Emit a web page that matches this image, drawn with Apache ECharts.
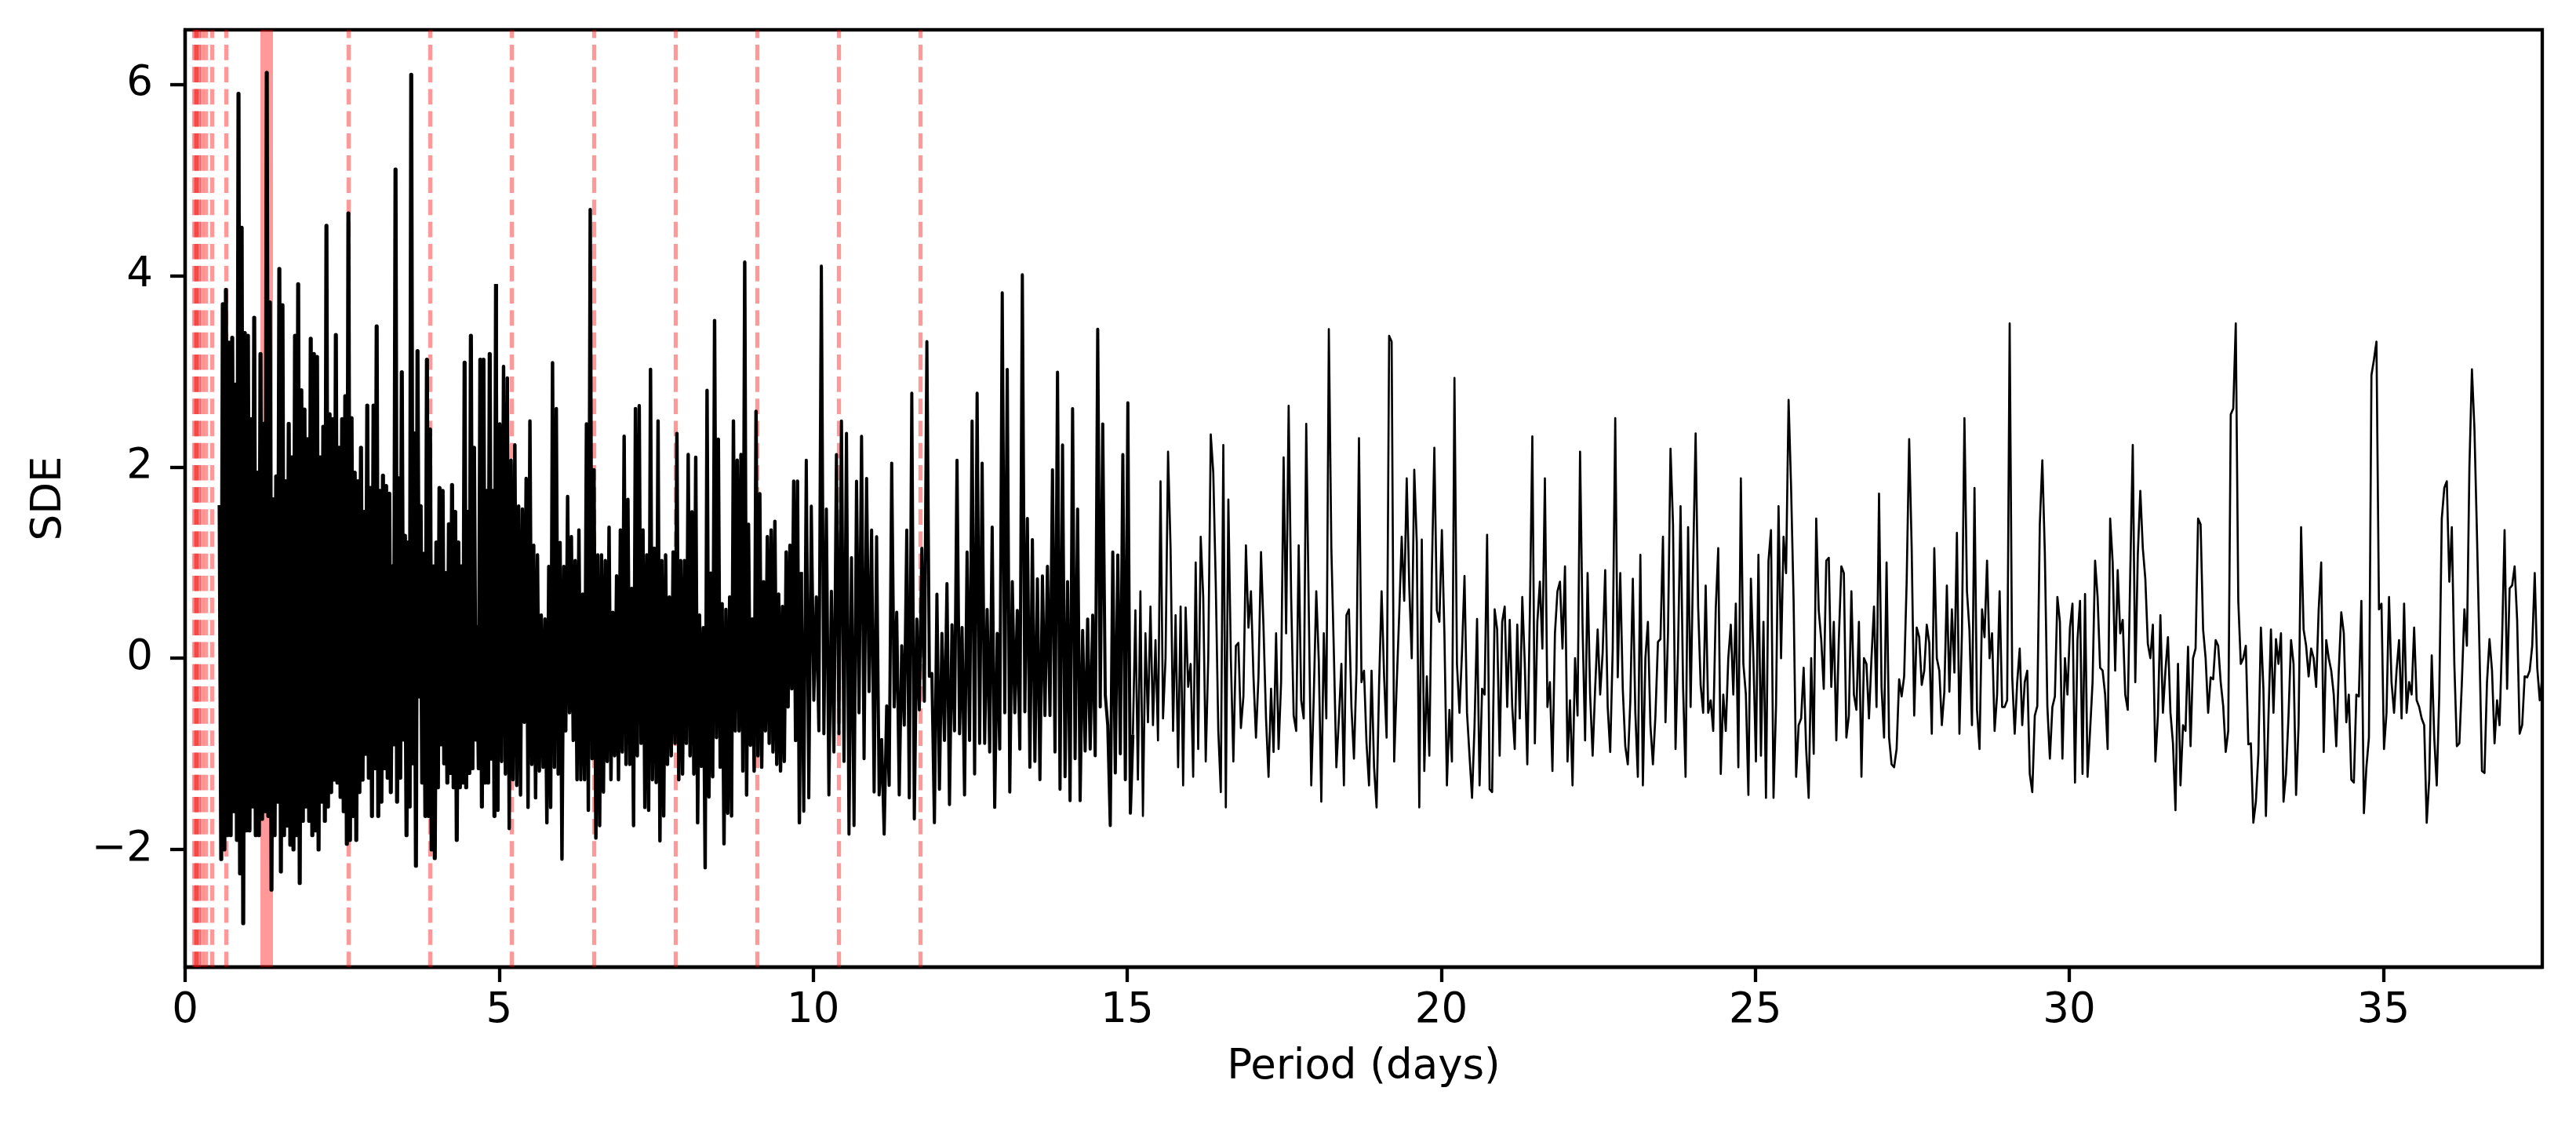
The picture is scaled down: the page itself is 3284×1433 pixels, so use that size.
<!DOCTYPE html>
<html><head><meta charset="utf-8">
<script src="https://cdn.jsdelivr.net/npm/echarts@6/dist/echarts.min.js"></script>
<style>html,body{margin:0;padding:0;background:#fff}#chart{width:3284px;height:1433px}</style>
</head><body><div id="chart"></div>
<script>
// ---- data ----
const xTicks = [0, 5, 10, 15, 20, 25, 30, 35];
const yTicks = [-2, 0, 2, 4, 6];
const bestPeriod = 1.301;
const aliasPeriods = [0.1446, 0.1626, 0.1859, 0.2168, 0.2602, 0.3253, 0.4337, 0.6505,
  2.602, 3.903, 5.204, 6.505, 7.806, 9.107, 10.408, 11.709];
// period grid of each SDE segment (start, step in days)
const gridStarts = [0.55, 4.95, 9.81, 15.09];
const gridSteps = [0.025, 0.03, 0.04, 0.04];
const sdeA = [1.6,-2.1, 3.7,-2.0, 3.85,-1.85, 3.3,-1.85, 3.35,-1.6, 2.86,-1.9, 5.9,-2.25, 4.5,-2.77, 3.4,-1.8, 3.37,-1.8,
  2.5,-1.55, 3.56,-1.85, 1.94,-1.85, 3.18,-1.68, 2.45,-1.6, 6.12,-1.65, 3.72,-2.42, 1.66,-1.85, 1.9,-1.5, 4.07,-2.23,
  3.69,-1.85, 1.85,-1.75, 2.45,-1.95, 2.1,-2.0, 3.37,-1.85, 3.91,-2.35, 2.8,-1.7, 2.6,-1.55, 2.29,-1.7, 3.34,-1.85,
  3.18,-1.8, 3.15,-2.0, 2.1,-1.5, 2.42,-1.7, 4.52,-1.55, 2.55,-1.4, 2.5,-1.27, 3.38,-1.3, 2.2,-1.45, 2.5,-1.6,
  2.74,-1.94, 4.65,-1.9, 2.51,-1.65, 1.94,-1.9, 1.85,-1.4, 2.2,-1.27, 1.53,-1.0, 2.64,-1.25, 1.78,-1.65, 2.64,-1.15,
  3.47,-1.65, 1.75,-1.5, 1.91,-1.15, 1.8,-1.25, 1.72,-1.4, 0.96,-0.9, 5.11,-1.5, 1.88,-1.25, 2.99,-0.85, 1.28,-1.85,
  1.21,-1.55, 6.1,-1.1, 2.35,-2.17, 3.21,-0.4, 1.59,-1.3, 1.09,-1.65, 3.12,-1.65, 2.39,-2.0, 0.96,-2.09, 1.21,-1.35,
  1.78,-0.9, 1.75,-1.1, 0.89,-1.3, 1.4,-1.2, 1.81,-1.35, 1.53,-1.9, 1.21,-1.35, 0.96,-1.3, 3.09,-1.35, 1.53,-1.2,
  3.37,-1.15, 2.2,-0.85, 0.32,-1.15, 3.12,-1.55, 3.12,-1.3, 1.75,-1.3, 3.18,-1.05, 1.75,-1.65];
const sdeB = [3.91,-1.59, 2.45,-1.08, 3.05,-1.21, 2.93,-1.78, 2.07,-1.27, 2.23,-1.33, 1.59,-1.43, 1.56,-0.67, 1.88,-1.56, 2.48,-1.11,
  1.18,-1.46, 1.08,-1.18, 0.45,-1.14, 0.41,-1.72, 0.96,-1.56, 3.09,-1.14, 2.61,-1.21, 1.21,-2.1, 0.96,-0.76, 1.69,-0.57,
  1.27,-0.86, 1.02,-1.27, 1.34,-1.27, 0.67,-1.27, 2.45,-1.59, 4.69,-1.05, 1.97,-1.88, 1.08,-1.75, 1.08,-1.4, 1.02,-1.08,
  1.37,-1.27, 0.48,-1.02, 0.86,-1.27, 1.34,-0.98, 2.32,-1.11, 1.66,-1.11, 0.73,-1.75, 2.61,-1.02, 2.64,-0.89, 1.34,-1.56,
  1.08,-1.59, 3.02,-1.27, 1.15,-1.3, 2.48,-1.91, 1.02,-1.65, 1.08,-1.11, 0.64,-1.02, 1.11,-0.89, 2.35,-1.27, 1.02,-1.21,
  1.02,-0.89, 2.13,-1.02, 1.53,-1.21, 2.1,-1.72, 0.45,-1.13, 0.32,-2.19, 2.8,-1.45, 0.89,-1.24, 3.53,-0.83, 2.29,-1.14,
  0.57,-1.94, 0.51,-1.62, 0.64,-1.65, 2.48,-0.76, 2.07,-0.76, 2.13,-1.18, 4.14,-1.43, 1.4,-0.91, 0.41,-1.18, 2.58,-1.02,
  1.72,-1.14, 0.8,-0.76, 1.27,-0.89, 1.34,-0.98, 1.43,-1.11, 0.67,-1.18, 0.54,-1.08, 1.11,-0.51, 1.18,-0.32, 1.85,-0.86,
  1.85,-1.72];
const sdeC = [0.9,-1.6, 2.07,-1.46, 1.59,-0.44, 0.64,-0.76, 4.1,-0.79, 1.56,-1.43, 0.7,-0.98, 2.13,-0.79, 2.48,-1.08, 2.35,-1.84,
  1.05,-1.75, 1.85,-0.57, 2.32,-1.05, 1.88,-0.35, 1.34,-1.4, 1.27,-1.43, -0.85,-1.84, -0.5,-1.33, 2.04,-0.51, 0.48,-1.43,
  0.13,-0.7, 1.34,-1.46, 2.77,-1.68, 0.41,-0.54, 1.15,-0.45, 3.31,-0.19, -0.16,-1.72, 0.67,-1.37, 0.26,-0.86, 0.78,-1.53,
  0.35,-0.76, 2.07,-0.79, 0.32,-1.43, 1.11,-0.86, 2.48,-1.21, 2.77,-0.89, 2.04,-0.89, 0.51,-0.98, 1.37,-1.56, 0.26,-0.95,
  3.82,-0.57, 3.02,-1.4, 0.8,-0.57, 0.5,-0.95, 4.01,-0.56, 1.46,-1.14, 1.24,-1.08, 0.83,-1.27, 0.86,-0.6, 0.96,-0.6,
  1.97,-0.98, 2.99,-1.37, 2.23,-1.24, 0.8,-1.49, 2.61,-1.05, 1.56,-1.49, 0.29,-0.97, 0.41,-0.95, 0.45,-1.02, 3.44,-0.51,
  2.45,-0.38, -0.7,-1.75, 1.11,-1.2, 1.08,-1.0, 2.13,-1.27, 2.67,-1.62];
const sdeD = [-0.8, 0.5, -1.27, 0.7, -1.65, 0.26, -0.67, 0.54, -0.7, 0.19,
  -0.86, 1.85, -0.63, 0.0, 2.16, 1.15, -0.76, 0.45, -1.14, 0.54,
  -1.33, 0.53, -0.3, -0.06, -1.24, 1.0, -0.95, 1.27, 0.64, -1.08,
  0.0, 2.34, 1.94, 0.77, -0.76, -1.4, 2.23, -1.56, 1.66, 0.0,
  -1.08, 0.13, 0.16, -0.73, -0.4, 1.18, 0.32, 0.7, -0.19, -0.83,
  -0.19, 1.11, 0.32, -0.63, -1.24, -0.32, -0.98, 0.26, -0.95, -0.25,
  2.1, 0.26, 2.64, 0.64, -0.6, -0.76, 1.18, -0.44, -0.63, 2.45,
  0.54, -1.33, -0.4, 0.7, -0.03, -1.5, 0.26, -0.63, 3.44, 1.15,
  0.06, -1.14, -0.63, -0.06, -1.33, 0.45, 0.51, -0.51, -1.05, -0.13,
  2.3, -0.25, -0.13, -0.89, -1.33, -0.13, -1.14, -1.56, -0.28, 0.7,
  -0.19, -0.83, 3.37, 3.31, -1.08, -0.28, 0.45, 1.27, 0.6, 1.88,
  0.76, 0.0, 1.97, 1.21, -1.56, 1.24, -1.18, -0.19, -1.02, 0.89,
  2.2, 0.5, 0.38, 1.34, 0.26, -1.33, -0.54, -1.08, 2.93, -0.06,
  -0.57, 0.06, 0.86, -0.57, -1.02, -1.46, -0.7, 0.41, -1.33, -0.32,
  -0.38, 1.29, -1.37,
  -1.4, 0.51, 0.3, -1.02, 0.38, 0.54, -0.51, 0.4, -0.51, -0.95,
  0.35, -0.63, 0.64, -0.06, -1.11, 0.45, 2.32, -0.89, 0.38, 0.8,
  0.1, 1.88, -0.51, -0.25, -1.18, 0.26, 0.7, 0.8, 0.1, 0.96,
  -1.08, -0.44, -1.33, 0.0, -0.6, 2.16, 0.32, -0.86, 0.89, -0.38,
  -1.02, -0.32, 0.3, -0.38, 0.06, 0.92, -0.51, -0.98, 0.1, 2.51,
  -0.2, 0.89, -0.32, -0.92, -1.11, -0.45, 0.83, -0.57, -1.24, 1.08,
  -1.33, 0.0, 0.38, -0.7, -1.11, -0.6, 0.17, 0.2, 1.27, -0.67,
  0.26, 2.19, 1.4, -0.95, 0.1, 1.59, -0.3, -1.24, 1.37, -0.51,
  1.0, 2.35, 0.54, -0.28, -0.57, 0.76, -0.57, -0.44, -0.76, 0.51,
  1.15, -1.21, -0.38, -0.76, 0.0, 0.35, -0.38, 0.57, -1.14, 1.88,
  -0.06, -0.38, -1.43, 0.83, 0.0, -1.08, 1.08, -1.02, 0.38, -1.46,
  1.02, 1.34, -1.46, -0.5, 1.59, 0.0, 1.27, 0.89, 2.7, 1.78,
  0.6, -1.24, -0.7, -0.63, -0.1, -0.95, -1.46, 0.0, -1.0, 1.46,
  0.5, 0.19, -0.32, 1.02, 1.05, -0.3, 0.38,
  -0.86, 0.2, 0.96, 0.89, -0.83, -0.6, 0.7, -0.38, -0.54, 0.38,
  -1.24, 0.0, -0.06, -0.63, 0.0, 0.54, -0.51, 1.72, -0.3, -0.83,
  1.0, -0.83, -1.11, -1.14, -0.95, -0.22, -0.4, -0.19, 0.8, 2.29,
  1.15, -0.6, 0.32, 0.22, -0.28, -0.13, 0.35, 0.16, -0.79, 1.15,
  0.0, -0.13, -0.7, -0.35, 0.76, -0.35, 0.51, -0.15, 1.31, -0.79,
  0.26, 2.51, 0.7, 0.29, -0.7, 1.78, -0.54, -0.95, 0.51, 0.22,
  1.02, 0.0, 0.26, -0.76, -0.38, 0.7, -0.51, -0.51, -0.44, 3.5,
  -0.19, -0.79, -0.25, 0.1, -0.7, -0.25, -0.13, -1.21, -1.4, -0.6,
  -0.5, 1.4, 2.07, 1.1, -0.5, -1.05, -0.51, -0.4, 0.64, 0.38,
  -1.05, 0.0, -0.38, 0.32, 0.57, -1.3, 0.19, 0.6, -1.21, 0.67,
  -1.24, -0.76, -0.25, 1.02, 0.64, -0.1, -0.13, -0.38, -0.95, 1.46,
  1.0, -0.13, 0.92, 0.26, 0.4, -0.38, -0.54, 0.89, 2.23, -0.25,
  1.08, 1.75, 1.15, 0.83, 0.15, 0.0, 0.35, -1.08, -0.6, 0.45,
  -0.57, -0.13, 0.22, -0.57, -0.89, -1.59, -0.06, -1.33, -0.7, -0.76,
  0.12, -0.92, 0.0, 0.1, 1.46, 1.4, 0.3, 0.0, -0.57, -0.2,
  -0.22, 0.19, 0.13, -0.25, -0.5, -0.98, -0.76, 2.55, 2.61, 3.5,
  0.6, -0.06, 0.0, 0.13, -0.9, -0.89, -1.72, -1.5, -1.0, 0.32,
  -0.32, -1.65, -0.63, 0.3, -0.57, 0.2, -0.06, 0.26, -1.5, -1.21,
  -0.6, 0.19, -0.06, -1.43, -0.7, 1.37, 0.3, 0.13, -0.19, 0.1,
  0.0, -0.3, 0.51, 1.0, -0.98, 0.19, 0.0, -0.13, -0.38, -0.92,
  -0.13, 0.48, 0.26, -0.67, -0.38, -1.27, -1.3, -0.38, -0.4, 0.6,
  -1.62, -1.14, -0.83, 2.96, 3.12, 3.31, 0.51, 0.57, -0.95, -0.57,
  0.64, -0.25, -0.57, -0.13, 0.19, -0.63, 0.57, -0.57, -0.25, -0.38,
  0.32, -0.44, -0.51, -0.63, -0.7, -1.72, -1.27, 0.03, -0.83, -1.33,
  -0.38, 1.46, 1.78, 1.85, 0.8, 1.37, -0.06, -0.92, -0.89, -0.25,
  0.51, 0.13, 2.0, 3.02, 2.4, 1.3, 0.1, -1.18, -1.2, -0.25,
  0.2, -0.13, -0.89, -0.44, -0.7, 0.19, 1.34, -0.32, 0.73, 0.76,
  0.96, 0.4, -0.79, -0.7, -0.19, -0.2, -0.13, 0.13, 0.89, -0.1,
  -0.44, -0.2];

// ---- build chart ----
const sdeSegments = [sdeA, sdeB, sdeC, sdeD];
// the denser the sampled stretch, the more the black trace fills in (as in the reference)
const segmentWidths = [5.2, 4.4, 4.0, 2.67];
const segPoints = sdeSegments.map((seg, s) => seg.map((v, i) => [+(gridStarts[s] + i * gridSteps[s]).toFixed(4), v]));
// join each segment to the first point of the next one
for (let s = 0; s < segPoints.length - 1; s++) segPoints[s].push(segPoints[s + 1][0]);
const lastSeg = segPoints[segPoints.length - 1];
const xMax = lastSeg[lastSeg.length - 1][0];

const FONT = 'DejaVu Sans';
const RED = 'rgba(255,0,0,0.4)';
const markData = aliasPeriods.map(p => ({ xAxis: p, lineStyle: { type: [19.7, 8.5], width: 5.3, color: RED } }));
markData.push({ xAxis: bestPeriod, lineStyle: { type: 'solid', width: 16, color: RED } });

const minus = v => (v < 0 ? '\u2212' + Math.abs(v) : String(v));

const series = segPoints.map((pts, s) => ({
  type: 'line', data: pts, showSymbol: false, symbol: 'none',
  silent: true, z: 3, clip: true,
  lineStyle: { color: '#000', width: segmentWidths[s], join: 'round' }
}));
series[0].markLine = { z: 1, silent: true, symbol: ['none', 'none'], precision: 4, animation: false,
  label: { show: false }, emphasis: { disabled: true }, data: markData };

const chart = echarts.init(document.getElementById('chart'), null, { renderer: 'canvas' });
chart.setOption({
  animation: false,
  backgroundColor: '#ffffff',
  grid: { left: 236, right: 43, top: 38, bottom: 200, show: true, borderColor: '#000', borderWidth: 4.3,
          backgroundColor: 'transparent', containLabel: false, outerBoundsMode: 'none' },
  xAxis: {
    type: 'value', min: 0, max: xMax,
    name: 'Period (days)', nameLocation: 'middle', nameGap: 102,
    nameTextStyle: { fontFamily: FONT, fontSize: 53, color: '#000' },
    axisLine: { show: true, onZero: false, lineStyle: { color: '#000', width: 4.3 } },
    axisTick: { show: true, length: 19, customValues: xTicks, lineStyle: { color: '#000', width: 4.3 } },
    axisLabel: { fontFamily: FONT, fontSize: 53, color: '#000', margin: 30, customValues: xTicks, formatter: minus },
    splitLine: { show: false }
  },
  yAxis: {
    type: 'value', min: -3.23, max: 6.57,
    name: 'SDE', nameLocation: 'middle', nameGap: 146, nameRotate: 90,
    nameTextStyle: { fontFamily: FONT, fontSize: 53, color: '#000' },
    axisLine: { show: true, onZero: false, lineStyle: { color: '#000', width: 4.3 } },
    axisTick: { show: true, length: 19, customValues: yTicks, lineStyle: { color: '#000', width: 4.3 } },
    axisLabel: { fontFamily: FONT, fontSize: 53, color: '#000', margin: 41, customValues: yTicks, formatter: minus },
    splitLine: { show: false }
  },
  series: series
});
</script></body></html>
